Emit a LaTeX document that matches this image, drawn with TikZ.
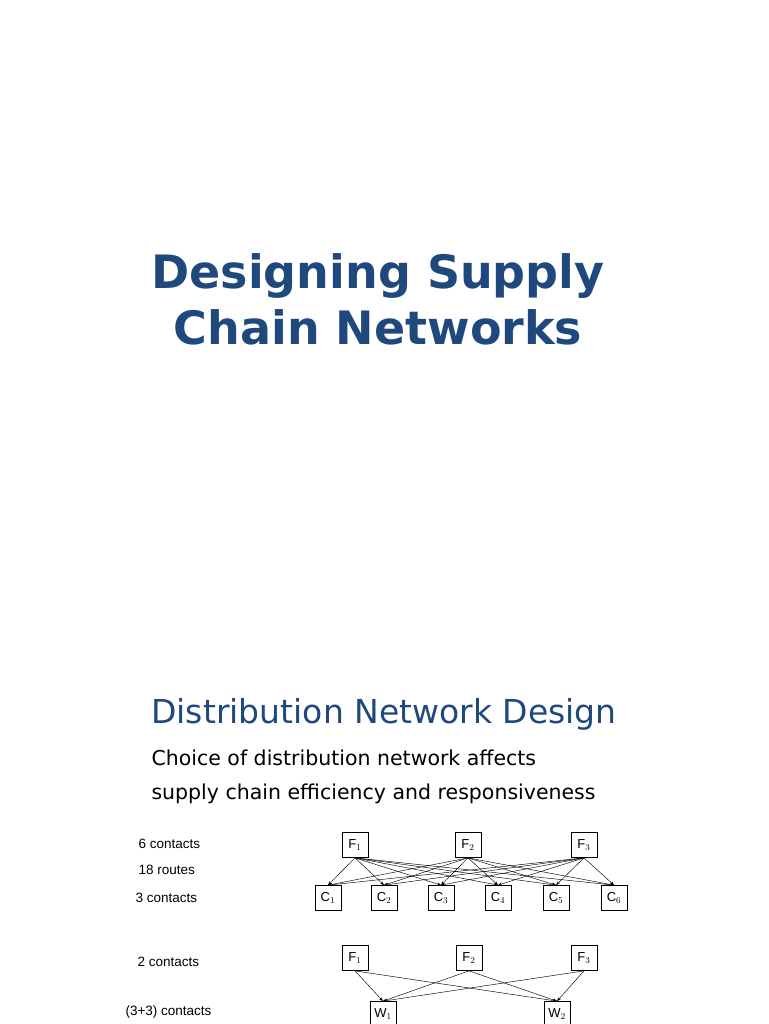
\documentclass[tikz,border=0pt]{standalone}
\usepackage{fontspec}
\setmainfont{DejaVu Sans}
\newfontfamily\arialf{Liberation Sans}
\usetikzlibrary{arrows.meta}
\definecolor{tblue}{RGB}{31,73,125}
\begin{document}
\begin{tikzpicture}[x=1pt,y=-1pt,
  box/.style={draw,line width=0.7pt,font=\arialf\fontsize{13}{15}\selectfont,minimum width=26pt,minimum height=25pt,inner sep=1pt},
  lab/.style={font=\arialf\fontsize{13.5}{16}\selectfont,anchor=west},
  edge/.style={line width=0.45pt,-{Stealth[length=4pt,width=3pt]}}]
\useasboundingbox (0,0) rectangle (768,1024);
\node[text=tblue,font=\fontsize{46}{56}\bfseries\selectfont,align=center] (title) at (378,299) {Designing Supply\\Chain Networks};
\node[text=tblue,font=\fontsize{33}{40}\selectfont] (sub) at (384,714) {Distribution Network Design};
\node[font=\fontsize{20.5}{34}\selectfont,align=left,anchor=west] (body) at (148,777) {Choice of distribution network affects\\supply chain efficiency and responsiveness};
\node[lab] (l1) at (135,844) {6 contacts};
\node[lab] (l2) at (135,870) {18 routes};
\node[lab] (l3) at (132,898) {3 contacts};
\node[lab] (l4) at (134,962) {2 contacts};
\node[lab] (l5) at (122,1012) {(3+3) contacts};
\foreach \i/\x in {1/355,2/468,3/584}{\node[box] (F\i) at (\x,845) {F$_{\i}$};}
\foreach \i/\x in {1/328,2/384,3/441,4/498,5/556,6/614}{\node[box] (C\i) at (\x,898) {C$_{\i}$};}
\foreach \i in {1,2,3}{\foreach \j in {1,...,6}{\draw[edge] (F\i.south) -- (C\j.north);}}
\foreach \i/\x in {1/355,2/469,3/584}{\node[box] (G\i) at (\x,958) {F$_{\i}$};}
\node[box] (W1) at (383,1014) {W$_1$};
\node[box] (W2) at (557,1014) {W$_2$};
\foreach \i in {1,2,3}{\foreach \j in {1,2}{\draw[edge] (G\i.south) -- (W\j.north);}}
\end{tikzpicture}
\end{document}
